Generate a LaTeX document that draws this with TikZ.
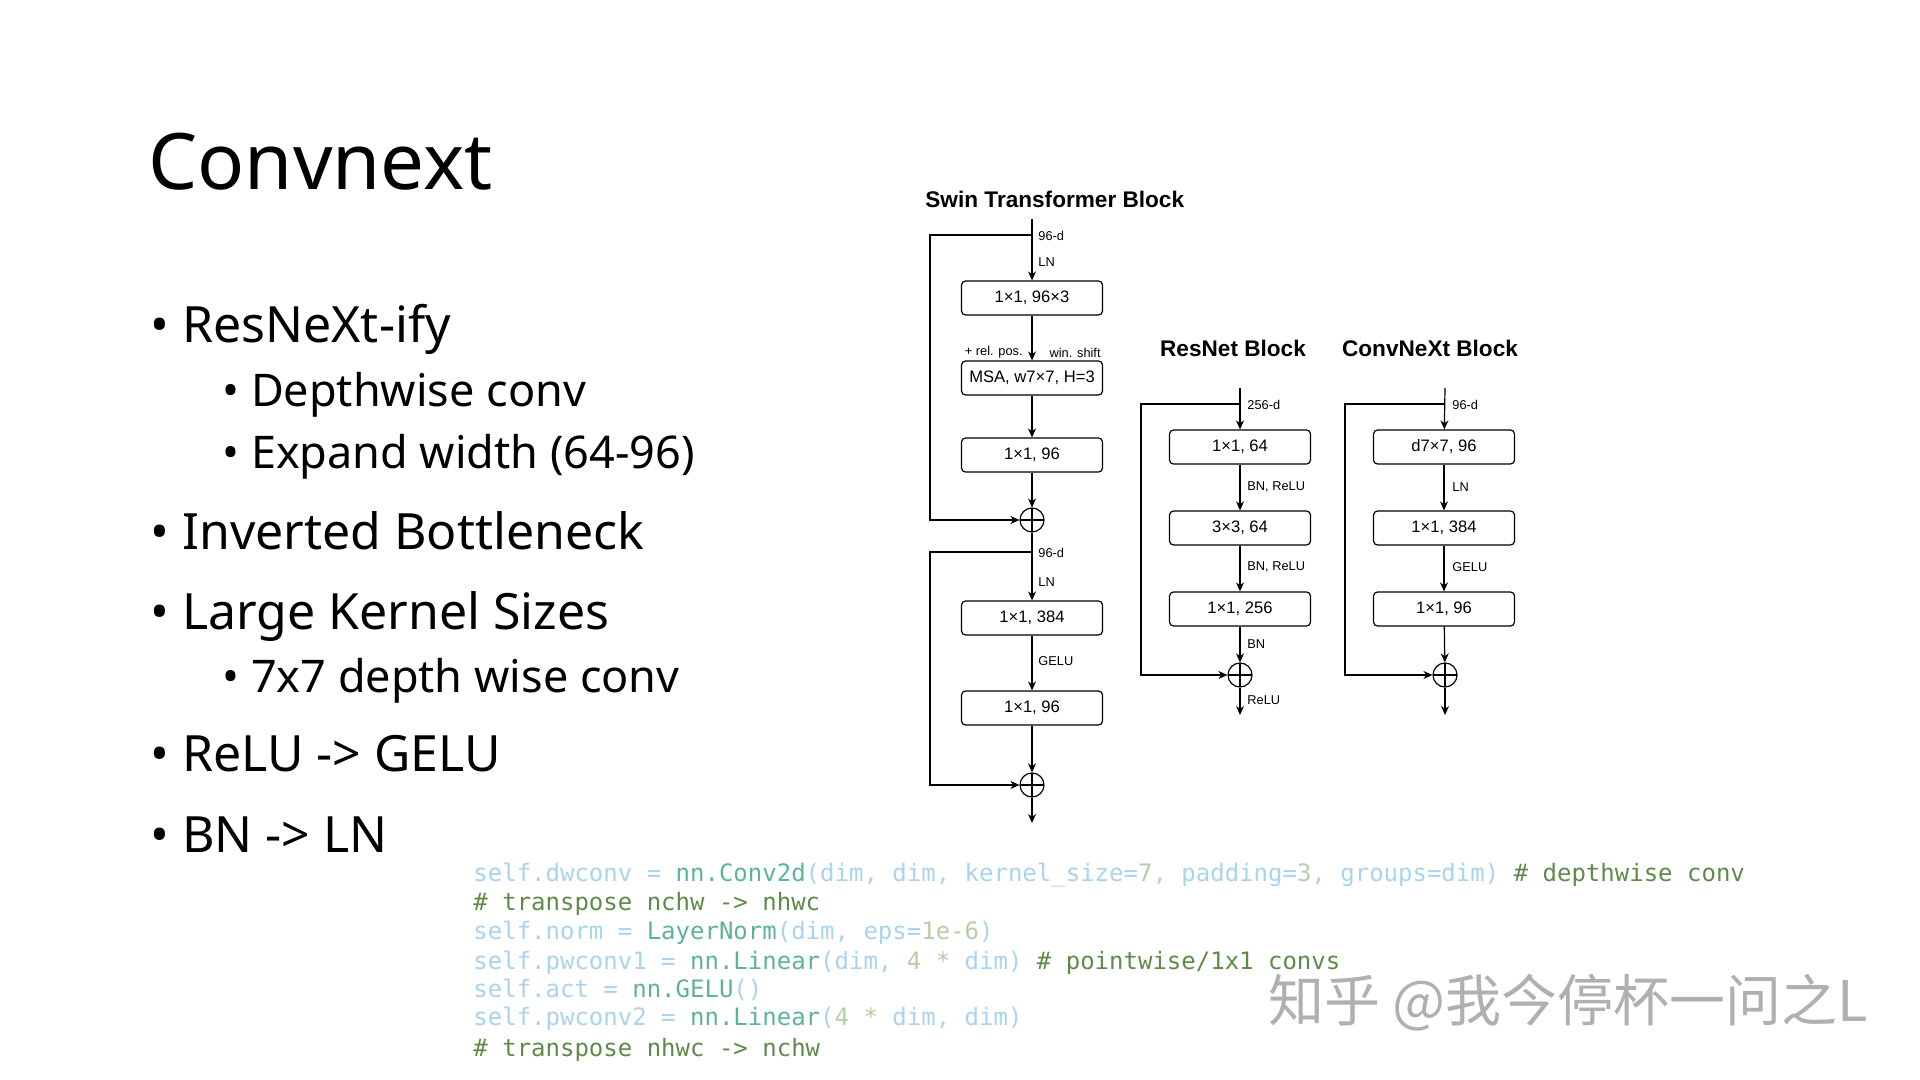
\documentclass[tikz,border=0pt]{standalone}
\usepackage{fontspec}
\setmainfont{Noto Sans}
\setmonofont{DejaVu Sans Mono}
\newfontfamily\dgm{Liberation Sans}
\newfontfamily\cjk{Noto Sans CJK SC}
\usetikzlibrary{arrows.meta}
\definecolor{cb}{HTML}{A9D3EE}
\definecolor{ct}{HTML}{5DB39A}
\definecolor{cc}{HTML}{5F8A4A}
\definecolor{cn}{HTML}{B5CEA8}
\definecolor{wm}{HTML}{B0B0B0}
\begin{document}
\begin{tikzpicture}[x=0.5pt,y=-0.5pt,
  box/.style={draw,rounded corners=2pt,line width=0.6pt,minimum width=70.5pt,minimum height=17pt,inner sep=0pt,font=\dgm\fontsize{8.3}{9}\selectfont},
  plus/.style={draw,circle,line width=0.6pt,minimum size=12pt,inner sep=0pt,path picture={\draw[line width=0.6pt] (path picture bounding box.north)--(path picture bounding box.south) (path picture bounding box.west)--(path picture bounding box.east);}},
  ar/.style={-{Stealth[length=4.5pt,width=4pt]},line width=0.6pt},
  lab/.style={font=\dgm\fontsize{6.4}{7}\selectfont,inner sep=1pt},
  ttl/.style={font=\dgm\bfseries\fontsize{11.3}{13}\selectfont,inner sep=0pt},
  bul/.style={anchor=base west,inner sep=0pt,font=\fontsize{25}{30}\selectfont},
  sbul/.style={anchor=base west,inner sep=0pt,font=\fontsize{22.5}{27}\selectfont},
  code/.style={anchor=base west,inner sep=0pt,font=\ttfamily\fontsize{12}{14}\selectfont}]
\useasboundingbox (0,0) rectangle (1920,1080);
% left text
\node[anchor=base west,inner sep=0pt,font=\fontsize{39}{46}\selectfont] (title) at (148,190) {Convnext};
\node[bul] (b1) at (150,343) {\textbullet\ ResNeXt-ify};
\node[sbul] (b2) at (222,406) {\textbullet\ Depthwise conv};
\node[sbul] (b3) at (222,468) {\textbullet\ Expand width (64-96)};
\node[bul] (b4) at (150,549) {\textbullet\ Inverted Bottleneck};
\node[bul] (b5) at (150,629) {\textbullet\ Large Kernel Sizes};
\node[sbul] (b6) at (222,692) {\textbullet\ 7x7 depth wise conv};
\node[bul] (b7) at (150,771) {\textbullet\ ReLU -> GELU};
\node[bul] (b8) at (150,852) {\textbullet\ BN -> LN};
% Swin
\node[ttl,anchor=west] (st) at (925,199) {Swin Transformer Block};
\coordinate (s0) at (1032,219);
\coordinate (s0b) at (1032,235);
\node[box] (s1) at (1032,298) {1×1, 96×3};
\node[box] (s2) at (1032,378) {MSA, w7×7, H=3};
\node[box] (s3) at (1032,455) {1×1, 96};
\node[plus] (sp1) at (1032,520) {};
\coordinate (s4) at (1032,552);
\node[box] (s5) at (1032,618) {1×1, 384};
\node[box] (s6) at (1032,708) {1×1, 96};
\node[plus] (sp2) at (1032,785) {};
\coordinate (se) at (1032,823);
\draw[ar] (s0)--(s1);
\draw[ar] (s1)--(s2);
\draw[ar] (s2)--(s3);
\draw[ar] (s3)--(sp1);
\draw[ar] (sp1)--(s5);
\draw[ar] (s5)--(s6);
\draw[ar] (s6)--(sp2);
\draw[ar] (sp2)--(se);
\draw[ar] (s0b)--(930,235)--(930,520)--(sp1);
\draw[ar] (s4)--(930,552)--(930,785)--(sp2);
\node[lab,anchor=west] (l1) at (1036,236) {96-d};
\node[lab,anchor=west] (l2) at (1036,262) {LN};
\node[lab,anchor=east] (l3) at (1025,352) {+ rel. pos.};
\node[lab,anchor=east] (l4) at (1103,353) {win. shift};
\node[lab,anchor=west] (l5) at (1036,553) {96-d};
\node[lab,anchor=west] (l6) at (1036,582) {LN};
\node[lab,anchor=west] (l7) at (1036,661) {GELU};
% ResNet
\node[ttl] (rt) at (1233,348) {ResNet Block};
\coordinate (r0) at (1240,388);
\coordinate (r0b) at (1240,404);
\node[box] (r1) at (1240,447) {1×1, 64};
\node[box] (r2) at (1240,528) {3×3, 64};
\node[box] (r3) at (1240,609) {1×1, 256};
\node[plus] (rp) at (1240,675) {};
\coordinate (re) at (1240,715);
\draw[ar] (r0)--(r1);
\draw[ar] (r1)--(r2);
\draw[ar] (r2)--(r3);
\draw[ar] (r3)--(rp);
\draw[ar] (rp)--(re);
\draw[ar] (r0b)--(1141,404)--(1141,675)--(rp);
\node[lab,anchor=west] (rl1) at (1245,405) {256-d};
\node[lab,anchor=west] (rl2) at (1245,487) {BN, ReLU};
\node[lab,anchor=west] (rl3) at (1245,567) {BN, ReLU};
\node[lab,anchor=west] (rl4) at (1245,644) {BN};
\node[lab,anchor=west] (rl5) at (1245,700) {ReLU};
% ConvNeXt
\node[ttl] (ct) at (1430,348) {ConvNeXt Block};
\coordinate (c0) at (1445,388);
\coordinate (c0b) at (1445,404);
\node[box] (c1) at (1444,447) {d7×7, 96};
\node[box] (c2) at (1444,528) {1×1, 384};
\node[box] (c3) at (1444,609) {1×1, 96};
\node[plus] (cp) at (1445,675) {};
\coordinate (ce) at (1445,715);
\draw[ar] (c0)--(c1);
\draw[ar] (c1)--(c2);
\draw[ar] (c2)--(c3);
\draw[ar] (c3)--(cp);
\draw[ar] (cp)--(ce);
\draw[ar] (c0b)--(1345,404)--(1345,675)--(cp);
\node[lab,anchor=west] (cl1) at (1450,405) {96-d};
\node[lab,anchor=west] (cl2) at (1450,487) {LN};
\node[lab,anchor=west] (cl3) at (1450,567) {GELU};
% code
\node[code] (k1) at (473,881) {\textcolor{cb}{self.dwconv = }\textcolor{ct}{nn.Conv2d}\textcolor{cb}{(dim, dim, kernel\_size=}\textcolor{cn}{7}\textcolor{cb}{, padding=}\textcolor{cn}{3}\textcolor{cb}{, groups=dim)} \textcolor{cc}{\# depthwise conv}};
\node[code] (k2) at (473,910) {\textcolor{cc}{\# transpose nchw -> nhwc}};
\node[code] (k3) at (473,939) {\textcolor{cb}{self.norm = }\textcolor{ct}{LayerNorm}\textcolor{cb}{(dim, eps=}\textcolor{cn}{1e-6}\textcolor{cb}{)}};
\node[code] (k4) at (473,969) {\textcolor{cb}{self.pwconv1 = }\textcolor{ct}{nn.Linear}\textcolor{cb}{(dim,}\ \textcolor{cn}{4}\ \textcolor{cn}{*}\ \textcolor{cb}{dim)} \textcolor{cc}{\# pointwise/1x1 convs}};
\node[code] (k5) at (473,997) {\textcolor{cb}{self.act = }\textcolor{ct}{nn.GELU}\textcolor{cb}{()}};
\node[code] (k6) at (473,1025) {\textcolor{cb}{self.pwconv2 = }\textcolor{ct}{nn.Linear}\textcolor{cb}{(}\textcolor{cn}{4}\ \textcolor{cn}{*}\ \textcolor{cb}{dim, dim)}};
\node[code] (k7) at (473,1056) {\textcolor{cc}{\# transpose nhwc -> nchw}};
% watermark
\node[anchor=west,inner sep=0pt,text=wm,font=\cjk\fontsize{28}{31}\selectfont] (wmk) at (1268,1003) {知乎 @我今停杯一问之L};
\end{tikzpicture}
\end{document}
